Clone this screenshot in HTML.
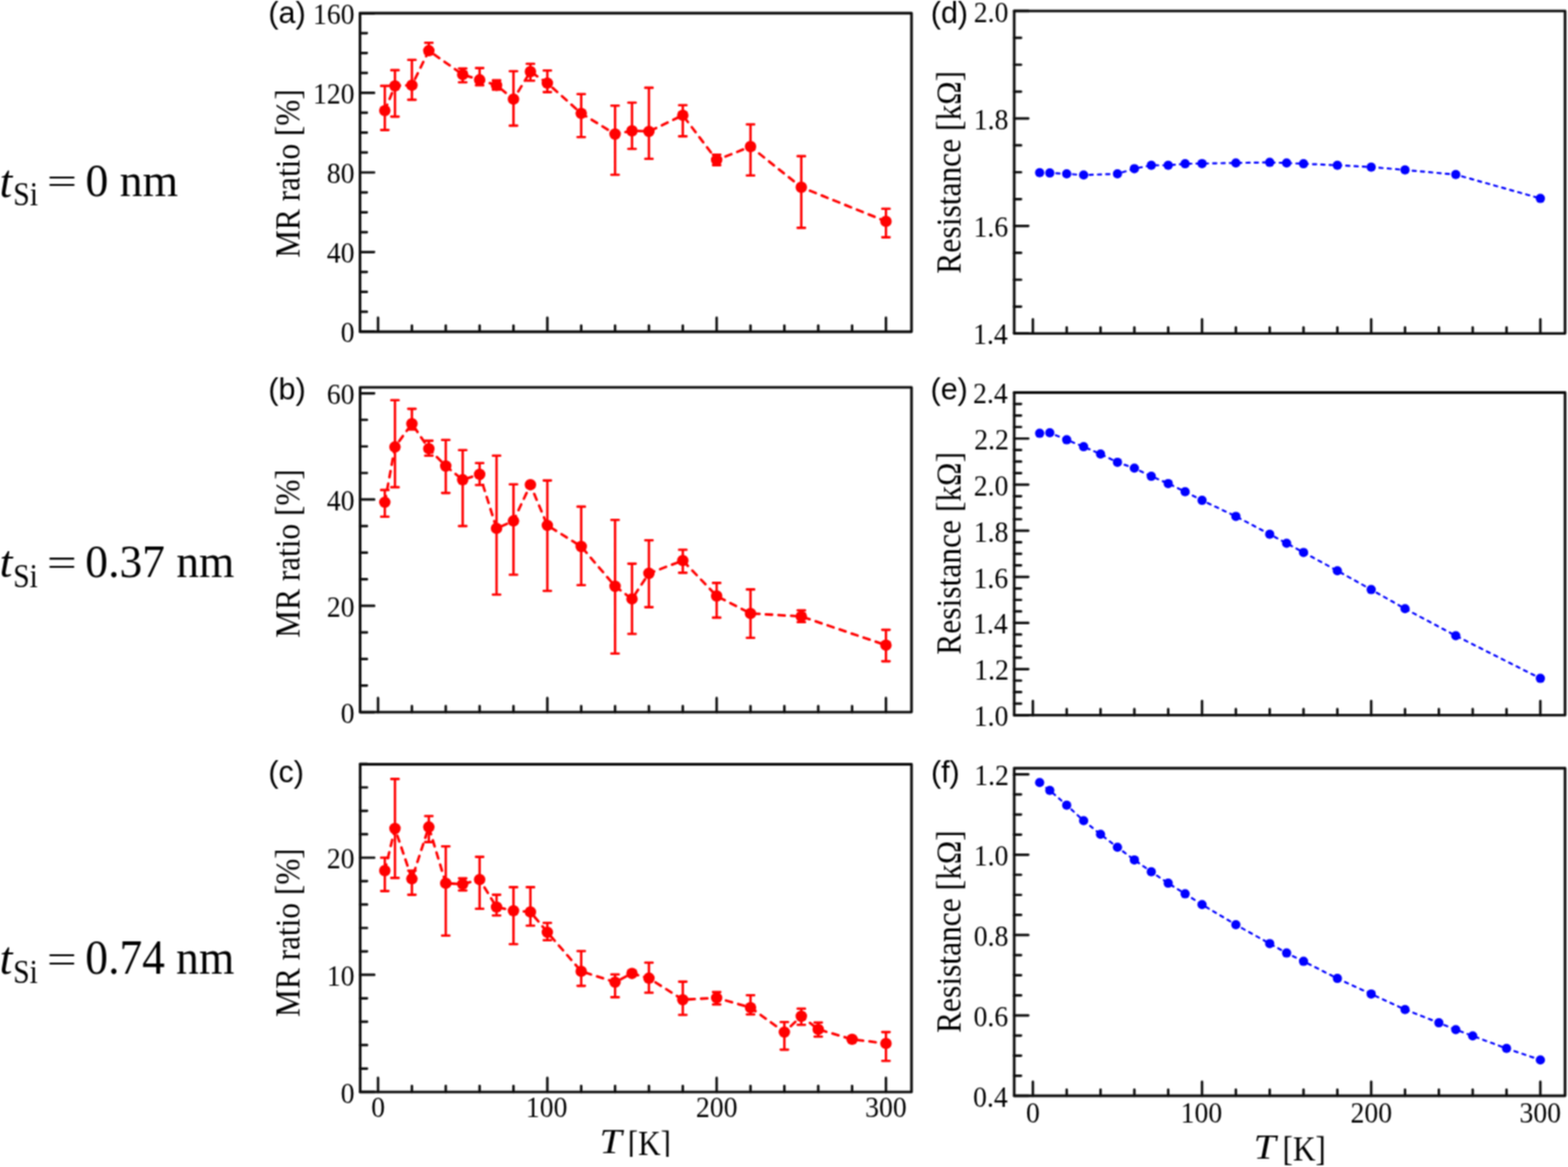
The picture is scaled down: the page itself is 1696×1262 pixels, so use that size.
<!DOCTYPE html>
<html><head><meta charset="utf-8"><title>MR ratio and resistance vs temperature</title>
<style>html,body{margin:0;padding:0;background:#fff;}svg{display:block;}</style></head>
<body><svg width="1696" height="1262" viewBox="0 0 1696 1262">
<defs><filter id="blur" x="0" y="0" width="1696" height="1262" filterUnits="userSpaceOnUse"><feConvolveMatrix order="3" kernelMatrix="1 2 1 2 4 2 1 2 1" divisor="16" edgeMode="duplicate"/></filter></defs>
<rect width="1696" height="1262" fill="#fff"/>
<g filter="url(#blur)">
<g fill="none" stroke="#111" stroke-linecap="round">
<rect x="389.4" y="14.3" width="596.5" height="344.4" stroke-width="2.9" stroke-linejoin="round"/>
<path d="M389.4 358.70H404.6M389.4 272.60H404.6M389.4 186.50H404.6M389.4 100.40H404.6M389.4 14.30H404.6M389.4 337.18H396.8M389.4 315.65H396.8M389.4 294.12H396.8M389.4 251.07H396.8M389.4 229.55H396.8M389.4 208.03H396.8M389.4 164.97H396.8M389.4 143.45H396.8M389.4 121.93H396.8M389.4 78.88H396.8M389.4 57.35H396.8M389.4 35.82H396.8M408.90 358.7V343.5M592.03 358.7V343.5M775.16 358.7V343.5M958.29 358.7V343.5M445.53 358.7V352.1M482.15 358.7V352.1M518.78 358.7V352.1M555.40 358.7V352.1M628.66 358.7V352.1M665.28 358.7V352.1M701.91 358.7V352.1M738.53 358.7V352.1M811.79 358.7V352.1M848.41 358.7V352.1M885.04 358.7V352.1M921.66 358.7V352.1" stroke-width="2.7"/>
<rect x="389.5" y="418.9" width="596.4" height="351.2" stroke-width="2.9" stroke-linejoin="round"/>
<path d="M389.5 770.10H404.7M389.5 655.16H404.7M389.5 540.22H404.7M389.5 425.28H404.7M389.5 741.37H396.9M389.5 712.63H396.9M389.5 683.89H396.9M389.5 626.42H396.9M389.5 597.69H396.9M389.5 568.96H396.9M389.5 511.49H396.9M389.5 482.75H396.9M389.5 454.02H396.9M408.90 770.1V754.9M592.03 770.1V754.9M775.16 770.1V754.9M958.29 770.1V754.9M445.53 770.1V763.5M482.15 770.1V763.5M518.78 770.1V763.5M555.40 770.1V763.5M628.66 770.1V763.5M665.28 770.1V763.5M701.91 770.1V763.5M738.53 770.1V763.5M811.79 770.1V763.5M848.41 770.1V763.5M885.04 770.1V763.5M921.66 770.1V763.5" stroke-width="2.7"/>
<rect x="389.6" y="826.5" width="596.3" height="354.4" stroke-width="2.9" stroke-linejoin="round"/>
<path d="M389.6 1180.90H404.8M389.6 1054.20H404.8M389.6 927.50H404.8M389.6 1155.56H397.0M389.6 1130.22H397.0M389.6 1104.88H397.0M389.6 1079.54H397.0M389.6 1028.86H397.0M389.6 1003.52H397.0M389.6 978.18H397.0M389.6 952.84H397.0M389.6 902.16H397.0M389.6 876.82H397.0M389.6 851.48H397.0M389.6 826.14H397.0M408.90 1180.9V1165.7M592.03 1180.9V1165.7M775.16 1180.9V1165.7M958.29 1180.9V1165.7M445.53 1180.9V1174.3M482.15 1180.9V1174.3M518.78 1180.9V1174.3M555.40 1180.9V1174.3M628.66 1180.9V1174.3M665.28 1180.9V1174.3M701.91 1180.9V1174.3M738.53 1180.9V1174.3M811.79 1180.9V1174.3M848.41 1180.9V1174.3M885.04 1180.9V1174.3M921.66 1180.9V1174.3" stroke-width="2.7"/>
<rect x="1097.0" y="11.9" width="595.8" height="348.7" stroke-width="2.9" stroke-linejoin="round"/>
<path d="M1097.0 360.60H1112.2M1097.0 244.36H1112.2M1097.0 128.12H1112.2M1097.0 11.88H1112.2M1097.0 331.54H1104.4M1097.0 302.48H1104.4M1097.0 273.42H1104.4M1097.0 215.30H1104.4M1097.0 186.24H1104.4M1097.0 157.18H1104.4M1097.0 99.06H1104.4M1097.0 70.00H1104.4M1097.0 40.94H1104.4M1117.20 360.6V345.4M1300.17 360.6V345.4M1483.14 360.6V345.4M1666.11 360.6V345.4M1153.79 360.6V354.0M1190.39 360.6V354.0M1226.98 360.6V354.0M1263.58 360.6V354.0M1336.76 360.6V354.0M1373.36 360.6V354.0M1409.95 360.6V354.0M1446.55 360.6V354.0M1519.73 360.6V354.0M1556.33 360.6V354.0M1592.92 360.6V354.0M1629.52 360.6V354.0" stroke-width="2.7"/>
<rect x="1097.0" y="424.5" width="595.8" height="348.9" stroke-width="2.9" stroke-linejoin="round"/>
<path d="M1097.0 773.40H1112.2M1097.0 723.54H1112.2M1097.0 673.68H1112.2M1097.0 623.82H1112.2M1097.0 573.96H1112.2M1097.0 524.10H1112.2M1097.0 474.24H1112.2M1097.0 424.38H1112.2M1097.0 760.93H1104.4M1097.0 748.47H1104.4M1097.0 736.00H1104.4M1097.0 711.07H1104.4M1097.0 698.61H1104.4M1097.0 686.14H1104.4M1097.0 661.22H1104.4M1097.0 648.75H1104.4M1097.0 636.28H1104.4M1097.0 611.36H1104.4M1097.0 598.89H1104.4M1097.0 586.42H1104.4M1097.0 561.49H1104.4M1097.0 549.03H1104.4M1097.0 536.56H1104.4M1097.0 511.63H1104.4M1097.0 499.17H1104.4M1097.0 486.70H1104.4M1097.0 461.77H1104.4M1097.0 449.31H1104.4M1097.0 436.84H1104.4M1117.20 773.4V758.2M1300.17 773.4V758.2M1483.14 773.4V758.2M1666.11 773.4V758.2M1153.79 773.4V766.8M1190.39 773.4V766.8M1226.98 773.4V766.8M1263.58 773.4V766.8M1336.76 773.4V766.8M1373.36 773.4V766.8M1409.95 773.4V766.8M1446.55 773.4V766.8M1519.73 773.4V766.8M1556.33 773.4V766.8M1592.92 773.4V766.8M1629.52 773.4V766.8" stroke-width="2.7"/>
<rect x="1097.0" y="830.7" width="595.8" height="354.3" stroke-width="2.9" stroke-linejoin="round"/>
<path d="M1097.0 1185.00H1112.2M1097.0 1098.10H1112.2M1097.0 1011.20H1112.2M1097.0 924.30H1112.2M1097.0 837.40H1112.2M1097.0 1163.28H1104.4M1097.0 1141.55H1104.4M1097.0 1119.83H1104.4M1097.0 1076.38H1104.4M1097.0 1054.65H1104.4M1097.0 1032.92H1104.4M1097.0 989.47H1104.4M1097.0 967.75H1104.4M1097.0 946.02H1104.4M1097.0 902.58H1104.4M1097.0 880.85H1104.4M1097.0 859.12H1104.4M1117.20 1185.0V1169.8M1300.17 1185.0V1169.8M1483.14 1185.0V1169.8M1666.11 1185.0V1169.8M1153.79 1185.0V1178.4M1190.39 1185.0V1178.4M1226.98 1185.0V1178.4M1263.58 1185.0V1178.4M1336.76 1185.0V1178.4M1373.36 1185.0V1178.4M1409.95 1185.0V1178.4M1446.55 1185.0V1178.4M1519.73 1185.0V1178.4M1556.33 1185.0V1178.4M1592.92 1185.0V1178.4M1629.52 1185.0V1178.4" stroke-width="2.7"/>
</g>
<polyline points="416.23,119.60 427.21,92.90 445.53,92.20 463.84,54.80 500.46,80.70 518.78,86.30 537.09,92.20 555.40,107.20 573.72,77.50 592.03,89.90 628.66,122.60 665.28,145.00 683.60,141.50 701.91,142.10 738.53,124.70 775.16,173.00 811.79,158.50 866.72,202.50 958.29,239.40" fill="none" stroke="#ff0000" stroke-width="2.8" stroke-dasharray="6.8 6.9" stroke-linecap="round" stroke-linejoin="round"/>
<path d="M416.23 92.90V140.60M412.23 92.90H420.23M412.23 140.60H420.23M427.21 75.90V126.10M423.21 75.90H431.21M423.21 126.10H431.21M445.53 64.80V107.90M441.53 64.80H449.53M441.53 107.90H449.53M463.84 46.20V58.00M459.84 46.20H467.84M459.84 58.00H467.84M500.46 74.00V89.00M496.46 74.00H504.46M496.46 89.00H504.46M518.78 73.60V92.20M514.78 73.60H522.78M514.78 92.20H522.78M537.09 86.90V97.00M533.09 86.90H541.09M533.09 97.00H541.09M555.40 77.00V135.90M551.40 77.00H559.40M551.40 135.90H559.40M573.72 69.00V87.20M569.72 69.00H577.72M569.72 87.20H577.72M592.03 76.30V99.60M588.03 76.30H596.03M588.03 99.60H596.03M628.66 101.70V148.20M624.66 101.70H632.66M624.66 148.20H632.66M665.28 114.20V189.00M661.28 114.20H669.28M661.28 189.00H669.28M683.60 111.00V161.00M679.60 111.00H687.60M679.60 161.00H687.60M701.91 94.90V171.70M697.91 94.90H705.91M697.91 171.70H705.91M738.53 113.80V147.40M734.53 113.80H742.53M734.53 147.40H742.53M775.16 167.20V178.60M771.16 167.20H779.16M771.16 178.60H779.16M811.79 134.50V189.80M807.79 134.50H815.79M807.79 189.80H815.79M866.72 168.90V246.40M862.72 168.90H870.72M862.72 246.40H870.72M958.29 225.70V256.60M954.29 225.70H962.29M954.29 256.60H962.29" fill="none" stroke="#ff0000" stroke-width="2.6" stroke-linecap="round"/>
<g fill="#ff0000"><circle cx="416.23" cy="119.60" r="6.2"/><circle cx="427.21" cy="92.90" r="6.2"/><circle cx="445.53" cy="92.20" r="6.2"/><circle cx="463.84" cy="54.80" r="6.2"/><circle cx="500.46" cy="80.70" r="6.2"/><circle cx="518.78" cy="86.30" r="6.2"/><circle cx="537.09" cy="92.20" r="6.2"/><circle cx="555.40" cy="107.20" r="6.2"/><circle cx="573.72" cy="77.50" r="6.2"/><circle cx="592.03" cy="89.90" r="6.2"/><circle cx="628.66" cy="122.60" r="6.2"/><circle cx="665.28" cy="145.00" r="6.2"/><circle cx="683.60" cy="141.50" r="6.2"/><circle cx="701.91" cy="142.10" r="6.2"/><circle cx="738.53" cy="124.70" r="6.2"/><circle cx="775.16" cy="173.00" r="6.2"/><circle cx="811.79" cy="158.50" r="6.2"/><circle cx="866.72" cy="202.50" r="6.2"/><circle cx="958.29" cy="239.40" r="6.2"/></g>
<polyline points="416.23,543.10 427.21,483.30 445.53,458.20 463.84,485.20 482.15,504.00 500.46,518.80 518.78,512.90 537.09,571.40 555.40,563.30 573.72,524.20 592.03,568.10 628.66,591.00 665.28,634.00 683.60,647.70 701.91,620.00 738.53,606.20 775.16,644.50 811.79,663.40 866.72,666.60 958.29,697.70" fill="none" stroke="#ff0000" stroke-width="2.8" stroke-dasharray="6.8 6.9" stroke-linecap="round" stroke-linejoin="round"/>
<path d="M416.23 529.90V558.70M412.23 529.90H420.23M412.23 558.70H420.23M427.21 432.70V526.90M423.21 432.70H431.21M423.21 526.90H431.21M445.53 442.10V464.40M441.53 442.10H449.53M441.53 464.40H449.53M463.84 476.60V492.70M459.84 476.60H467.84M459.84 492.70H467.84M482.15 475.70V533.10M478.15 475.70H486.15M478.15 533.10H486.15M500.46 486.80V568.90M496.46 486.80H504.46M496.46 568.90H504.46M518.78 500.80V524.50M514.78 500.80H522.78M514.78 524.50H522.78M537.09 492.70V643.00M533.09 492.70H541.09M533.09 643.00H541.09M555.40 523.70V621.50M551.40 523.70H559.40M551.40 621.50H559.40M592.03 519.60V639.00M588.03 519.60H596.03M588.03 639.00H596.03M628.66 547.90V632.80M624.66 547.90H632.66M624.66 632.80H632.66M665.28 562.30V706.80M661.28 562.30H669.28M661.28 706.80H669.28M683.60 609.60V685.50M679.60 609.60H687.60M679.60 685.50H687.60M701.91 584.20V656.60M697.91 584.20H705.91M697.91 656.60H705.91M738.53 594.50V619.40M734.53 594.50H742.53M734.53 619.40H742.53M775.16 630.40V667.90M771.16 630.40H779.16M771.16 667.90H779.16M811.79 637.40V689.80M807.79 637.40H815.79M807.79 689.80H815.79M866.72 660.00V672.80M862.72 660.00H870.72M862.72 672.80H870.72M958.29 681.10V715.10M954.29 681.10H962.29M954.29 715.10H962.29" fill="none" stroke="#ff0000" stroke-width="2.6" stroke-linecap="round"/>
<g fill="#ff0000"><circle cx="416.23" cy="543.10" r="6.2"/><circle cx="427.21" cy="483.30" r="6.2"/><circle cx="445.53" cy="458.20" r="6.2"/><circle cx="463.84" cy="485.20" r="6.2"/><circle cx="482.15" cy="504.00" r="6.2"/><circle cx="500.46" cy="518.80" r="6.2"/><circle cx="518.78" cy="512.90" r="6.2"/><circle cx="537.09" cy="571.40" r="6.2"/><circle cx="555.40" cy="563.30" r="6.2"/><circle cx="573.72" cy="524.20" r="6.2"/><circle cx="592.03" cy="568.10" r="6.2"/><circle cx="628.66" cy="591.00" r="6.2"/><circle cx="665.28" cy="634.00" r="6.2"/><circle cx="683.60" cy="647.70" r="6.2"/><circle cx="701.91" cy="620.00" r="6.2"/><circle cx="738.53" cy="606.20" r="6.2"/><circle cx="775.16" cy="644.50" r="6.2"/><circle cx="811.79" cy="663.40" r="6.2"/><circle cx="866.72" cy="666.60" r="6.2"/><circle cx="958.29" cy="697.70" r="6.2"/></g>
<polyline points="416.23,941.50 427.21,896.00 445.53,950.30 463.84,894.30 482.15,955.20 500.46,956.10 518.78,951.20 537.09,980.90 555.40,984.90 573.72,986.20 592.03,1008.10 628.66,1050.40 665.28,1062.10 683.60,1052.70 701.91,1057.80 738.53,1081.10 775.16,1079.10 811.79,1089.60 848.41,1116.10 866.72,1099.00 885.04,1113.20 921.66,1123.90 958.29,1128.40" fill="none" stroke="#ff0000" stroke-width="2.8" stroke-dasharray="6.8 6.9" stroke-linecap="round" stroke-linejoin="round"/>
<path d="M416.23 927.50V963.60M412.23 927.50H420.23M412.23 963.60H420.23M427.21 842.40V949.40M423.21 842.40H431.21M423.21 949.40H431.21M445.53 941.50V967.60M441.53 941.50H449.53M441.53 967.60H449.53M463.84 882.50V910.60M459.84 882.50H467.84M459.84 910.60H467.84M482.15 915.30V1011.70M478.15 915.30H486.15M478.15 1011.70H486.15M500.46 949.70V963.00M496.46 949.70H504.46M496.46 963.00H504.46M518.78 926.60V982.70M514.78 926.60H522.78M514.78 982.70H522.78M537.09 967.60V990.00M533.09 967.60H541.09M533.09 990.00H541.09M555.40 959.40V1021.00M551.40 959.40H559.40M551.40 1021.00H559.40M573.72 959.40V1001.00M569.72 959.40H577.72M569.72 1001.00H577.72M592.03 998.00V1016.80M588.03 998.00H596.03M588.03 1016.80H596.03M628.66 1028.50V1066.10M624.66 1028.50H632.66M624.66 1066.10H632.66M665.28 1053.80V1078.40M661.28 1053.80H669.28M661.28 1078.40H669.28M701.91 1041.00V1073.50M697.91 1041.00H705.91M697.91 1073.50H705.91M738.53 1061.60V1097.50M734.53 1061.60H742.53M734.53 1097.50H742.53M775.16 1072.80V1086.30M771.16 1072.80H779.16M771.16 1086.30H779.16M811.79 1076.20V1097.00M807.79 1076.20H815.79M807.79 1097.00H815.79M848.41 1105.30V1135.10M844.41 1105.30H852.41M844.41 1135.10H852.41M866.72 1090.70V1108.20M862.72 1090.70H870.72M862.72 1108.20H870.72M885.04 1105.80V1121.00M881.04 1105.80H889.04M881.04 1121.00H889.04M958.29 1116.10V1147.20M954.29 1116.10H962.29M954.29 1147.20H962.29" fill="none" stroke="#ff0000" stroke-width="2.6" stroke-linecap="round"/>
<g fill="#ff0000"><circle cx="416.23" cy="941.50" r="6.2"/><circle cx="427.21" cy="896.00" r="6.2"/><circle cx="445.53" cy="950.30" r="6.2"/><circle cx="463.84" cy="894.30" r="6.2"/><circle cx="482.15" cy="955.20" r="6.2"/><circle cx="500.46" cy="956.10" r="6.2"/><circle cx="518.78" cy="951.20" r="6.2"/><circle cx="537.09" cy="980.90" r="6.2"/><circle cx="555.40" cy="984.90" r="6.2"/><circle cx="573.72" cy="986.20" r="6.2"/><circle cx="592.03" cy="1008.10" r="6.2"/><circle cx="628.66" cy="1050.40" r="6.2"/><circle cx="665.28" cy="1062.10" r="6.2"/><circle cx="683.60" cy="1052.70" r="6.2"/><circle cx="701.91" cy="1057.80" r="6.2"/><circle cx="738.53" cy="1081.10" r="6.2"/><circle cx="775.16" cy="1079.10" r="6.2"/><circle cx="811.79" cy="1089.60" r="6.2"/><circle cx="848.41" cy="1116.10" r="6.2"/><circle cx="866.72" cy="1099.00" r="6.2"/><circle cx="885.04" cy="1113.20" r="6.2"/><circle cx="921.66" cy="1123.90" r="6.2"/><circle cx="958.29" cy="1128.40" r="6.2"/></g>
<polyline points="1124.52,186.80 1135.50,187.10 1153.79,188.00 1172.09,189.30 1208.68,188.00 1226.98,182.40 1245.28,178.70 1263.58,178.80 1281.87,177.10 1300.17,176.90 1336.76,176.20 1373.36,175.60 1391.66,176.30 1409.95,177.10 1446.55,178.70 1483.14,180.70 1519.73,183.80 1574.62,188.80 1666.11,214.60" fill="none" stroke="#0000ff" stroke-width="2.2" stroke-dasharray="3.6 5.4" stroke-linecap="round" stroke-linejoin="round"/>
<g fill="#0000ff"><circle cx="1124.52" cy="186.80" r="5.0"/><circle cx="1135.50" cy="187.10" r="5.0"/><circle cx="1153.79" cy="188.00" r="5.0"/><circle cx="1172.09" cy="189.30" r="5.0"/><circle cx="1208.68" cy="188.00" r="5.0"/><circle cx="1226.98" cy="182.40" r="5.0"/><circle cx="1245.28" cy="178.70" r="5.0"/><circle cx="1263.58" cy="178.80" r="5.0"/><circle cx="1281.87" cy="177.10" r="5.0"/><circle cx="1300.17" cy="176.90" r="5.0"/><circle cx="1336.76" cy="176.20" r="5.0"/><circle cx="1373.36" cy="175.60" r="5.0"/><circle cx="1391.66" cy="176.30" r="5.0"/><circle cx="1409.95" cy="177.10" r="5.0"/><circle cx="1446.55" cy="178.70" r="5.0"/><circle cx="1483.14" cy="180.70" r="5.0"/><circle cx="1519.73" cy="183.80" r="5.0"/><circle cx="1574.62" cy="188.80" r="5.0"/><circle cx="1666.11" cy="214.60" r="5.0"/></g>
<polyline points="1124.52,468.60 1135.50,468.00 1153.79,475.60 1172.09,483.10 1190.39,491.00 1208.68,499.90 1226.98,506.30 1245.28,515.10 1263.58,522.90 1281.87,531.70 1300.17,541.10 1336.76,558.40 1373.36,577.70 1391.66,587.50 1409.95,597.40 1446.55,617.20 1483.14,637.60 1519.73,658.30 1574.62,687.50 1666.11,733.60" fill="none" stroke="#0000ff" stroke-width="2.2" stroke-dasharray="3.6 5.4" stroke-linecap="round" stroke-linejoin="round"/>
<g fill="#0000ff"><circle cx="1124.52" cy="468.60" r="5.0"/><circle cx="1135.50" cy="468.00" r="5.0"/><circle cx="1153.79" cy="475.60" r="5.0"/><circle cx="1172.09" cy="483.10" r="5.0"/><circle cx="1190.39" cy="491.00" r="5.0"/><circle cx="1208.68" cy="499.90" r="5.0"/><circle cx="1226.98" cy="506.30" r="5.0"/><circle cx="1245.28" cy="515.10" r="5.0"/><circle cx="1263.58" cy="522.90" r="5.0"/><circle cx="1281.87" cy="531.70" r="5.0"/><circle cx="1300.17" cy="541.10" r="5.0"/><circle cx="1336.76" cy="558.40" r="5.0"/><circle cx="1373.36" cy="577.70" r="5.0"/><circle cx="1391.66" cy="587.50" r="5.0"/><circle cx="1409.95" cy="597.40" r="5.0"/><circle cx="1446.55" cy="617.20" r="5.0"/><circle cx="1483.14" cy="637.60" r="5.0"/><circle cx="1519.73" cy="658.30" r="5.0"/><circle cx="1574.62" cy="687.50" r="5.0"/><circle cx="1666.11" cy="733.60" r="5.0"/></g>
<polyline points="1124.52,846.30 1135.50,854.80 1153.79,870.70 1172.09,887.50 1190.39,902.20 1208.68,916.30 1226.98,929.90 1245.28,942.70 1263.58,955.10 1281.87,966.60 1300.17,978.20 1336.76,1000.00 1373.36,1020.40 1391.66,1030.60 1409.95,1039.60 1446.55,1058.10 1483.14,1074.90 1519.73,1091.70 1556.33,1106.10 1574.62,1113.50 1592.92,1120.30 1629.52,1133.80 1666.11,1146.20" fill="none" stroke="#0000ff" stroke-width="2.2" stroke-dasharray="3.6 5.4" stroke-linecap="round" stroke-linejoin="round"/>
<g fill="#0000ff"><circle cx="1124.52" cy="846.30" r="5.0"/><circle cx="1135.50" cy="854.80" r="5.0"/><circle cx="1153.79" cy="870.70" r="5.0"/><circle cx="1172.09" cy="887.50" r="5.0"/><circle cx="1190.39" cy="902.20" r="5.0"/><circle cx="1208.68" cy="916.30" r="5.0"/><circle cx="1226.98" cy="929.90" r="5.0"/><circle cx="1245.28" cy="942.70" r="5.0"/><circle cx="1263.58" cy="955.10" r="5.0"/><circle cx="1281.87" cy="966.60" r="5.0"/><circle cx="1300.17" cy="978.20" r="5.0"/><circle cx="1336.76" cy="1000.00" r="5.0"/><circle cx="1373.36" cy="1020.40" r="5.0"/><circle cx="1391.66" cy="1030.60" r="5.0"/><circle cx="1409.95" cy="1039.60" r="5.0"/><circle cx="1446.55" cy="1058.10" r="5.0"/><circle cx="1483.14" cy="1074.90" r="5.0"/><circle cx="1519.73" cy="1091.70" r="5.0"/><circle cx="1556.33" cy="1106.10" r="5.0"/><circle cx="1574.62" cy="1113.50" r="5.0"/><circle cx="1592.92" cy="1120.30" r="5.0"/><circle cx="1629.52" cy="1133.80" r="5.0"/><circle cx="1666.11" cy="1146.20" r="5.0"/></g>
<g fill="#000">
<text transform="translate(368.40 370.40) scale(0.3000 0.3150)" font-family="'Liberation Serif', 'Times New Roman', serif" font-size="100">0</text>
<text transform="translate(353.40 284.30) scale(0.3000 0.3150)" font-family="'Liberation Serif', 'Times New Roman', serif" font-size="100">40</text>
<text transform="translate(353.40 198.20) scale(0.3000 0.3150)" font-family="'Liberation Serif', 'Times New Roman', serif" font-size="100">80</text>
<text transform="translate(338.40 112.10) scale(0.3000 0.3150)" font-family="'Liberation Serif', 'Times New Roman', serif" font-size="100">120</text>
<text transform="translate(338.40 26.00) scale(0.3000 0.3150)" font-family="'Liberation Serif', 'Times New Roman', serif" font-size="100">160</text>
<text transform="translate(368.40 781.80) scale(0.3000 0.3150)" font-family="'Liberation Serif', 'Times New Roman', serif" font-size="100">0</text>
<text transform="translate(353.40 666.86) scale(0.3000 0.3150)" font-family="'Liberation Serif', 'Times New Roman', serif" font-size="100">20</text>
<text transform="translate(353.40 551.92) scale(0.3000 0.3150)" font-family="'Liberation Serif', 'Times New Roman', serif" font-size="100">40</text>
<text transform="translate(353.40 436.98) scale(0.3000 0.3150)" font-family="'Liberation Serif', 'Times New Roman', serif" font-size="100">60</text>
<text transform="translate(368.40 1192.60) scale(0.3000 0.3150)" font-family="'Liberation Serif', 'Times New Roman', serif" font-size="100">0</text>
<text transform="translate(353.40 1065.90) scale(0.3000 0.3150)" font-family="'Liberation Serif', 'Times New Roman', serif" font-size="100">10</text>
<text transform="translate(353.40 939.20) scale(0.3000 0.3150)" font-family="'Liberation Serif', 'Times New Roman', serif" font-size="100">20</text>
<text transform="translate(1052.60 372.30) scale(0.3000 0.3150)" font-family="'Liberation Serif', 'Times New Roman', serif" font-size="100">1.4</text>
<text transform="translate(1052.90 256.06) scale(0.3000 0.3150)" font-family="'Liberation Serif', 'Times New Roman', serif" font-size="100">1.6</text>
<text transform="translate(1053.20 139.82) scale(0.3000 0.3150)" font-family="'Liberation Serif', 'Times New Roman', serif" font-size="100">1.8</text>
<text transform="translate(1053.20 23.58) scale(0.3000 0.3150)" font-family="'Liberation Serif', 'Times New Roman', serif" font-size="100">2.0</text>
<text transform="translate(1053.20 785.10) scale(0.3000 0.3150)" font-family="'Liberation Serif', 'Times New Roman', serif" font-size="100">1.0</text>
<text transform="translate(1053.80 735.24) scale(0.3000 0.3150)" font-family="'Liberation Serif', 'Times New Roman', serif" font-size="100">1.2</text>
<text transform="translate(1052.60 685.38) scale(0.3000 0.3150)" font-family="'Liberation Serif', 'Times New Roman', serif" font-size="100">1.4</text>
<text transform="translate(1052.90 635.52) scale(0.3000 0.3150)" font-family="'Liberation Serif', 'Times New Roman', serif" font-size="100">1.6</text>
<text transform="translate(1053.20 585.66) scale(0.3000 0.3150)" font-family="'Liberation Serif', 'Times New Roman', serif" font-size="100">1.8</text>
<text transform="translate(1053.20 535.80) scale(0.3000 0.3150)" font-family="'Liberation Serif', 'Times New Roman', serif" font-size="100">2.0</text>
<text transform="translate(1053.80 485.94) scale(0.3000 0.3150)" font-family="'Liberation Serif', 'Times New Roman', serif" font-size="100">2.2</text>
<text transform="translate(1052.60 436.08) scale(0.3000 0.3150)" font-family="'Liberation Serif', 'Times New Roman', serif" font-size="100">2.4</text>
<text transform="translate(1052.60 1196.70) scale(0.3000 0.3150)" font-family="'Liberation Serif', 'Times New Roman', serif" font-size="100">0.4</text>
<text transform="translate(1052.90 1109.80) scale(0.3000 0.3150)" font-family="'Liberation Serif', 'Times New Roman', serif" font-size="100">0.6</text>
<text transform="translate(1053.20 1022.90) scale(0.3000 0.3150)" font-family="'Liberation Serif', 'Times New Roman', serif" font-size="100">0.8</text>
<text transform="translate(1053.20 936.00) scale(0.3000 0.3150)" font-family="'Liberation Serif', 'Times New Roman', serif" font-size="100">1.0</text>
<text transform="translate(1053.80 849.10) scale(0.3000 0.3150)" font-family="'Liberation Serif', 'Times New Roman', serif" font-size="100">1.2</text>
<text transform="translate(401.40 1208.30) scale(0.3000 0.3150)" font-family="'Liberation Serif', 'Times New Roman', serif" font-size="100">0</text>
<text transform="translate(568.78 1208.30) scale(0.3000 0.3150)" font-family="'Liberation Serif', 'Times New Roman', serif" font-size="100">100</text>
<text transform="translate(752.66 1208.30) scale(0.3000 0.3150)" font-family="'Liberation Serif', 'Times New Roman', serif" font-size="100">200</text>
<text transform="translate(935.64 1208.30) scale(0.3000 0.3150)" font-family="'Liberation Serif', 'Times New Roman', serif" font-size="100">300</text>
<text transform="translate(1109.70 1213.50) scale(0.3000 0.3150)" font-family="'Liberation Serif', 'Times New Roman', serif" font-size="100">0</text>
<text transform="translate(1276.92 1213.50) scale(0.3000 0.3150)" font-family="'Liberation Serif', 'Times New Roman', serif" font-size="100">100</text>
<text transform="translate(1460.64 1213.50) scale(0.3000 0.3150)" font-family="'Liberation Serif', 'Times New Roman', serif" font-size="100">200</text>
<text transform="translate(1643.46 1213.50) scale(0.3000 0.3150)" font-family="'Liberation Serif', 'Times New Roman', serif" font-size="100">300</text>
<text transform="translate(290.37 25.03) scale(0.33)" font-family="'Liberation Sans', Arial, sans-serif" font-size="100">(a)</text>
<text transform="translate(290.32 431.93) scale(0.33)" font-family="'Liberation Sans', Arial, sans-serif" font-size="100">(b)</text>
<text transform="translate(290.36 845.68) scale(0.33)" font-family="'Liberation Sans', Arial, sans-serif" font-size="100">(c)</text>
<text transform="translate(1006.67 24.98) scale(0.33)" font-family="'Liberation Sans', Arial, sans-serif" font-size="100">(d)</text>
<text transform="translate(1006.52 431.93) scale(0.33)" font-family="'Liberation Sans', Arial, sans-serif" font-size="100">(e)</text>
<text transform="translate(1006.89 845.68) scale(0.33)" font-family="'Liberation Sans', Arial, sans-serif" font-size="100">(f)</text>
<text transform="translate(323.57 278.77) rotate(-90) scale(0.3384 0.3866)" font-family="'Liberation Serif', 'Times New Roman', serif" font-size="100">MR ratio [%]</text>
<text transform="translate(323.57 689.67) rotate(-90) scale(0.3384 0.3866)" font-family="'Liberation Serif', 'Times New Roman', serif" font-size="100">MR ratio [%]</text>
<text transform="translate(323.57 1099.67) rotate(-90) scale(0.3384 0.3866)" font-family="'Liberation Serif', 'Times New Roman', serif" font-size="100">MR ratio [%]</text>
<text transform="translate(1039.27 295.92) rotate(-90) scale(0.3409 0.3793)" font-family="'Liberation Serif', 'Times New Roman', serif" font-size="100">Resistance [kΩ]</text>
<text transform="translate(1039.27 708.07) rotate(-90) scale(0.3409 0.3793)" font-family="'Liberation Serif', 'Times New Roman', serif" font-size="100">Resistance [kΩ]</text>
<text transform="translate(1039.27 1117.12) rotate(-90) scale(0.3409 0.3793)" font-family="'Liberation Serif', 'Times New Roman', serif" font-size="100">Resistance [kΩ]</text>
<clipPath id="clipL"><rect x="0" y="0" width="1000" height="1251"/></clipPath>
<g clip-path="url(#clipL)">
<text transform="translate(648.48 1247.00) scale(0.4315 0.3846)" font-family="'Liberation Serif', 'Times New Roman', serif" font-style="italic" font-size="100">T</text>
<text transform="translate(678.94 1249.21) scale(0.3371 0.3841)" font-family="'Liberation Serif', 'Times New Roman', serif" font-size="100">[K]</text>
</g>
<text transform="translate(1355.89 1252.90) scale(0.4296 0.3846)" font-family="'Liberation Serif', 'Times New Roman', serif" font-style="italic" font-size="100">T</text>
<text transform="translate(1387.13 1255.11) scale(0.3379 0.3841)" font-family="'Liberation Serif', 'Times New Roman', serif" font-size="100">[K]</text>
<text transform="translate(-0.48 212.79) scale(0.4962 0.5070)" font-family="'Liberation Serif', 'Times New Roman', serif" font-style="italic" font-size="100">t</text>
<text transform="translate(14.24 221.80) scale(0.3230 0.3522)" font-family="'Liberation Serif', 'Times New Roman', serif" font-size="100">Si</text>
<text transform="translate(50.82 209.90) scale(0.5766 0.4000)" font-family="'Liberation Serif', 'Times New Roman', serif" font-size="100">=</text>
<text transform="translate(92.52 212.19) scale(0.4939 0.5075)" font-family="'Liberation Serif', 'Times New Roman', serif" font-size="100">0 nm</text>
<text transform="translate(-0.52 624.31) scale(0.5038 0.4895)" font-family="'Liberation Serif', 'Times New Roman', serif" font-style="italic" font-size="100">t</text>
<text transform="translate(14.26 634.88) scale(0.3203 0.3612)" font-family="'Liberation Serif', 'Times New Roman', serif" font-size="100">Si</text>
<text transform="translate(50.84 622.29) scale(0.5723 0.4280)" font-family="'Liberation Serif', 'Times New Roman', serif" font-size="100">=</text>
<text transform="translate(92.33 624.17) scale(0.4916 0.5149)" font-family="'Liberation Serif', 'Times New Roman', serif" font-size="100">0.37 nm</text>
<text transform="translate(-0.52 1053.20) scale(0.5038 0.4982)" font-family="'Liberation Serif', 'Times New Roman', serif" font-style="italic" font-size="100">t</text>
<text transform="translate(14.26 1063.28) scale(0.3203 0.3597)" font-family="'Liberation Serif', 'Times New Roman', serif" font-size="100">Si</text>
<text transform="translate(50.84 1050.94) scale(0.5723 0.4160)" font-family="'Liberation Serif', 'Times New Roman', serif" font-size="100">=</text>
<text transform="translate(92.33 1052.66) scale(0.4916 0.5209)" font-family="'Liberation Serif', 'Times New Roman', serif" font-size="100">0.74 nm</text>
</g>
</g>
</svg></body></html>
